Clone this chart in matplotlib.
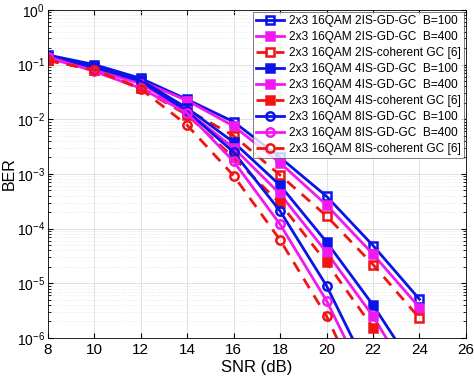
import matplotlib
matplotlib.use("Agg")
import matplotlib.pyplot as plt
import numpy as np

plt.rcParams['font.family'] = ['Liberation Sans', 'DejaVu Sans']

snr = [8, 10, 12, 14, 16, 18, 20, 22, 24]

# 2 IS
ber_2is_b100 = [0.15, 0.10, 0.056, 0.023, 0.009, 2.0e-3, 3.9e-4, 4.9e-5, 5.1e-6]
ber_2is_b400 = [0.13, 0.085, 0.05, 0.022, 0.0075, 1.6e-3, 2.7e-4, 3.4e-5, 3.6e-6]
ber_2is_coh = [0.12, 0.08, 0.037, 0.015, 0.005, 9.5e-4, 1.7e-4, 2.2e-5, 2.3e-6]
# 4 IS
ber_4is_b100 = [0.14, 0.09, 0.052, 0.016, 0.0038, 6.2e-4, 5.7e-5, 4.0e-6, 2.0e-7]
ber_4is_b400 = [0.13, 0.08, 0.045, 0.014, 0.003, 4.3e-4, 3.7e-5, 2.5e-6, 1.0e-7]
ber_4is_coh = [0.12, 0.08, 0.037, 0.012, 0.002, 2.9e-4, 2.4e-5, 1.55e-6, 6.0e-8]
# 8 IS
ber_8is_b100 = [0.14, 0.09, 0.05, 0.014, 0.0025, 2.1e-4, 9.0e-6, 1.7e-7]
ber_8is_b400 = [0.14, 0.075, 0.037, 0.013, 0.0017, 1.2e-4, 4.8e-6, 9.0e-8]
ber_8is_coh = [0.12, 0.08, 0.036, 0.0078, 9.3e-4, 6.2e-5, 2.5e-6, 4.0e-8]

labels = [
    '2x3 16QAM 2IS-GD-GC  B=100',
    '2x3 16QAM 2IS-GD-GC  B=400',
    '2x3 16QAM 2IS-coherent GC [6]',
    '2x3 16QAM 4IS-GD-GC  B=100',
    '2x3 16QAM 4IS-GD-GC  B=400',
    '2x3 16QAM 4IS-coherent GC [6]',
    '2x3 16QAM 8IS-GD-GC  B=100',
    '2x3 16QAM 8IS-GD-GC  B=400',
    '2x3 16QAM 8IS-coherent GC [6]',
]

blue = '#0a14e6'
mag = '#f019f0'
red = '#f01414'

fig = plt.figure(figsize=(4.74, 3.81), dpi=100)
ax = fig.add_axes([0.1006, 0.113, 0.8824, 0.861])

series = [
    (ber_2is_b100, blue, '-', 's', 'none'),
    (ber_2is_b400, mag, '-', 's', mag),
    (ber_2is_coh, red, '--', 's', 'none'),
    (ber_4is_b100, blue, '-', 's', blue),
    (ber_4is_b400, mag, '-', 's', mag),
    (ber_4is_coh, red, '--', 's', red),
    (ber_8is_b100, blue, '-', 'o', 'none'),
    (ber_8is_b400, mag, '-', 'o', 'none'),
    (ber_8is_coh, red, '--', 'o', 'none'),
]

for (y, c, ls, m, fc), lab in zip(series, labels):
    ax.semilogy(snr[:len(y)], y, color=c, linestyle=ls, linewidth=2,
                marker=m, markersize=6, markerfacecolor=fc,
                markeredgecolor=c, markeredgewidth=1.8, label=lab,
                dashes=(4, 3) if ls == '--' else (None, None))

ax.set_xlim(8, 26)
ax.set_ylim(1e-6, 1)
ax.set_xticks(range(8, 27, 2))
ax.set_yticks([1e-6, 1e-5, 1e-4, 1e-3, 1e-2, 1e-1, 1e0])
ax.grid(True, which='major', color='#dcdcdc', linewidth=0.6)
ax.grid(True, which='minor', axis='y', color='#e4e4e4', linestyle=':', linewidth=0.6)
ax.tick_params(which='both', direction='in', top=True, right=True, labelsize=11)
ax.tick_params(axis='y', pad=2, labelsize=10)
ax.set_xlabel('SNR (dB)', fontsize=12, labelpad=2)
ax.set_ylabel('BER', fontsize=11.5)
ax.yaxis.set_label_coords(-0.075, 0.5)
for s in ax.spines.values():
    s.set_linewidth(0.6)

leg = ax.legend(loc='upper right', fontsize=8.6, frameon=True, fancybox=False,
                edgecolor='#444444', handlelength=2.3, handletextpad=0.4,
                labelspacing=0.33, borderpad=0.3, borderaxespad=0.15)
leg.get_frame().set_linewidth(0.6)

fig.savefig('out.png', dpi=100)
